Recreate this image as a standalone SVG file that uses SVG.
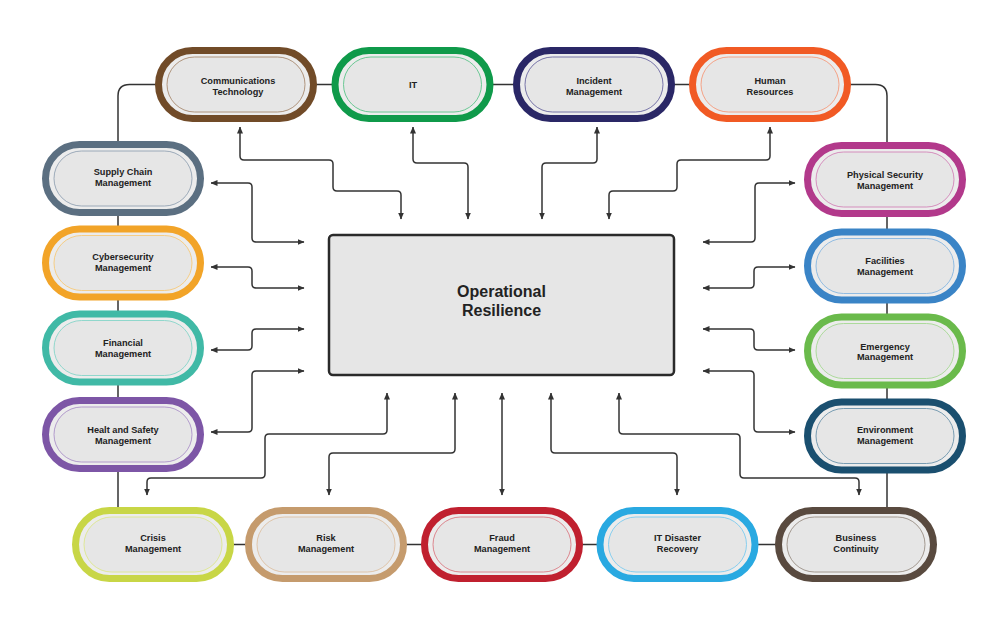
<svg xmlns="http://www.w3.org/2000/svg" width="1000" height="634" viewBox="0 0 1000 634">
<style>
.ring{fill:#ececec;stroke-width:7}
.inner{fill:#e6e6e6;stroke-width:0.9}
.lbl{font-family:"Liberation Sans",Arial,sans-serif;font-weight:bold;font-size:9.2px;fill:#222;text-anchor:middle}
.conn{fill:none;stroke:#333;stroke-width:1.5}
.arr{fill:none;stroke:#333;stroke-width:1.5;marker-start:url(#ah);marker-end:url(#ah)}
</style>
<defs>
<marker id="ah" markerUnits="userSpaceOnUse" markerWidth="7" markerHeight="6" refX="6.5" refY="3" orient="auto-start-reverse">
<path d="M0,0 L7,3 L0,6 z" fill="#333"/>
</marker>
</defs>
<rect width="1000" height="634" fill="#fff"/>
<g id="connectors">
<path class="conn" d="M118,507 V96 Q118,84.5 129.5,84.5 H875.5 Q887,84.5 887,96 V507"/>
<path class="conn" d="M153,544.5 H856"/>
<path class="arr" d="M240,127 V156 Q240,160 244,160 H329 Q333,160 333,164 V187 Q333,191 337,191 H397 Q401,191 401,195 V219"/>
<path class="arr" d="M413,127 V159 Q413,163 417,163 H464 Q468,163 468,167 V219"/>
<path class="arr" d="M597,127 V159 Q597,163 593,163 H546 Q542,163 542,167 V219"/>
<path class="arr" d="M770,127 V156 Q770,160 766,160 H681 Q677,160 677,164 V187 Q677,191 673,191 H613 Q609,191 609,195 V219"/>
<path class="arr" d="M211,183 H248 Q252,183 252,187 V238 Q252,242 256,242 H304"/>
<path class="arr" d="M211,267 H248 Q252,267 252,271 V284 Q252,288 256,288 H304"/>
<path class="arr" d="M304,329 H256 Q252,329 252,333 V346 Q252,350 248,350 H211"/>
<path class="arr" d="M304,371 H256 Q252,371 252,375 V428 Q252,432 248,432 H211"/>
<path class="arr" d="M795,183 H759 Q755,183 755,187 V238 Q755,242 751,242 H703"/>
<path class="arr" d="M703,288 H750 Q754,288 754,284 V271 Q754,267 758,267 H795"/>
<path class="arr" d="M703,329 H750 Q754,329 754,333 V346 Q754,350 758,350 H795"/>
<path class="arr" d="M703,371 H750 Q754,371 754,375 V428 Q754,432 758,432 H795"/>
<path class="arr" d="M387,393 V430 Q387,434 383,434 H269 Q265,434 265,438 V474 Q265,478 261,478 H151 Q147,478 147,482 V495"/>
<path class="arr" d="M455,393 V449 Q455,453 451,453 H333 Q329,453 329,457 V495"/>
<path class="arr" d="M502,393 V495"/>
<path class="arr" d="M551,393 V449 Q551,453 555,453 H673 Q677,453 677,457 V495"/>
<path class="arr" d="M619,393 V430 Q619,434 623,434 H736 Q740,434 740,438 V474 Q740,478 744,478 H855 Q859,478 859,482 V495"/>
</g>
<g id="center">
<rect x="329" y="235" width="345" height="140" rx="4" fill="#e6e6e6" stroke="#2a2a2a" stroke-width="2.5"/>
<text x="501.5" y="297" style="font-family:'Liberation Sans',Arial,sans-serif;font-weight:bold;font-size:16px;fill:#222;text-anchor:middle">Operational</text>
<text x="501.5" y="315.5" style="font-family:'Liberation Sans',Arial,sans-serif;font-weight:bold;font-size:16px;fill:#222;text-anchor:middle">Resilience</text>
</g>
<g id="comm-tech">
<rect class="ring" x="158.5" y="50.5" width="155" height="68" rx="34" stroke="#714b28"/>
<rect class="inner" x="167" y="57" width="138" height="55" rx="27.5" stroke="#a88a70"/>
<text class="lbl" x="238" y="84">Communications</text>
<text class="lbl" x="238" y="95">Technology</text>
</g>
<g id="it">
<rect class="ring" x="335" y="50.5" width="155" height="68" rx="34" stroke="#0f9a4a"/>
<rect class="inner" x="343.5" y="57" width="138" height="55" rx="27.5" stroke="#5cc48a"/>
<text class="lbl" x="413" y="88">IT</text>
</g>
<g id="incident">
<rect class="ring" x="516.5" y="50.5" width="155" height="68" rx="34" stroke="#2a2766"/>
<rect class="inner" x="525" y="57" width="138" height="55" rx="27.5" stroke="#6a67a0"/>
<text class="lbl" x="594" y="83.5">Incident</text>
<text class="lbl" x="594" y="94.5">Management</text>
</g>
<g id="hr">
<rect class="ring" x="692.5" y="50.5" width="155" height="68" rx="34" stroke="#f15a24"/>
<rect class="inner" x="701" y="57" width="138" height="55" rx="27.5" stroke="#f59a7a"/>
<text class="lbl" x="770" y="84">Human</text>
<text class="lbl" x="770" y="95">Resources</text>
</g>
<g id="supply-chain">
<rect class="ring" x="45.5" y="144.5" width="155" height="68" rx="34" stroke="#5b6f81"/>
<rect class="inner" x="54" y="151" width="138" height="55" rx="27.5" stroke="#93a3b3"/>
<text class="lbl" x="123" y="175">Supply Chain</text>
<text class="lbl" x="123" y="186">Management</text>
</g>
<g id="cybersecurity">
<rect class="ring" x="45.5" y="229" width="155" height="68" rx="34" stroke="#f2a428"/>
<rect class="inner" x="54" y="235.5" width="138" height="55" rx="27.5" stroke="#f6c97a"/>
<text class="lbl" x="123" y="260">Cybersecurity</text>
<text class="lbl" x="123" y="271">Management</text>
</g>
<g id="financial">
<rect class="ring" x="45.5" y="314" width="155" height="68" rx="34" stroke="#40b9a6"/>
<rect class="inner" x="54" y="320.5" width="138" height="55" rx="27.5" stroke="#86d5c8"/>
<text class="lbl" x="123" y="346">Financial</text>
<text class="lbl" x="123" y="356.5">Management</text>
</g>
<g id="health-safety">
<rect class="ring" x="45.5" y="400.5" width="155" height="68" rx="34" stroke="#7d56a6"/>
<rect class="inner" x="54" y="407" width="138" height="55" rx="27.5" stroke="#ac92c8"/>
<text class="lbl" x="123" y="433">Healt and Safety</text>
<text class="lbl" x="123" y="444">Management</text>
</g>
<g id="physical-security">
<rect class="ring" x="807.5" y="145.5" width="155" height="68" rx="34" stroke="#b2398b"/>
<rect class="inner" x="816" y="152" width="138" height="55" rx="27.5" stroke="#d283b8"/>
<text class="lbl" x="885" y="177.5">Physical Security</text>
<text class="lbl" x="885" y="188.5">Management</text>
</g>
<g id="facilities">
<rect class="ring" x="807.5" y="232" width="155" height="68" rx="34" stroke="#3a84c6"/>
<rect class="inner" x="816" y="238.5" width="138" height="55" rx="27.5" stroke="#86b5e0"/>
<text class="lbl" x="885" y="264">Facilities</text>
<text class="lbl" x="885" y="274.5">Management</text>
</g>
<g id="emergency">
<rect class="ring" x="807.5" y="317" width="155" height="68" rx="34" stroke="#6aba4b"/>
<rect class="inner" x="816" y="323.5" width="138" height="55" rx="27.5" stroke="#a5d892"/>
<text class="lbl" x="885" y="349.5">Emergency</text>
<text class="lbl" x="885" y="360">Management</text>
</g>
<g id="environment">
<rect class="ring" x="807.5" y="402" width="155" height="68" rx="34" stroke="#1a4f6f"/>
<rect class="inner" x="816" y="408.5" width="138" height="55" rx="27.5" stroke="#6a92aa"/>
<text class="lbl" x="885" y="433">Environment</text>
<text class="lbl" x="885" y="443.5">Management</text>
</g>
<g id="crisis">
<rect class="ring" x="75.5" y="510.5" width="155" height="68" rx="34" stroke="#c8d646"/>
<rect class="inner" x="84" y="517" width="138" height="55" rx="27.5" stroke="#dde68e"/>
<text class="lbl" x="153" y="541">Crisis</text>
<text class="lbl" x="153" y="552">Management</text>
</g>
<g id="risk">
<rect class="ring" x="248.5" y="510.5" width="155" height="68" rx="34" stroke="#c59b6d"/>
<rect class="inner" x="257" y="517" width="138" height="55" rx="27.5" stroke="#dcc0a2"/>
<text class="lbl" x="326" y="541">Risk</text>
<text class="lbl" x="326" y="552">Management</text>
</g>
<g id="fraud">
<rect class="ring" x="424.5" y="510.5" width="155" height="68" rx="34" stroke="#c0202f"/>
<rect class="inner" x="433" y="517" width="138" height="55" rx="27.5" stroke="#da7a83"/>
<text class="lbl" x="502" y="541">Fraud</text>
<text class="lbl" x="502" y="552">Management</text>
</g>
<g id="it-disaster">
<rect class="ring" x="600" y="510.5" width="155" height="68" rx="34" stroke="#29a9e1"/>
<rect class="inner" x="608.5" y="517" width="138" height="55" rx="27.5" stroke="#7dcbee"/>
<text class="lbl" x="677.5" y="541">IT Disaster</text>
<text class="lbl" x="677.5" y="552">Recovery</text>
</g>
<g id="business-continuity">
<rect class="ring" x="778.5" y="510.5" width="155" height="68" rx="34" stroke="#594a3f"/>
<rect class="inner" x="787" y="517" width="138" height="55" rx="27.5" stroke="#9a8e85"/>
<text class="lbl" x="856" y="541">Business</text>
<text class="lbl" x="856" y="552">Continuity</text>
</g>
</svg>
